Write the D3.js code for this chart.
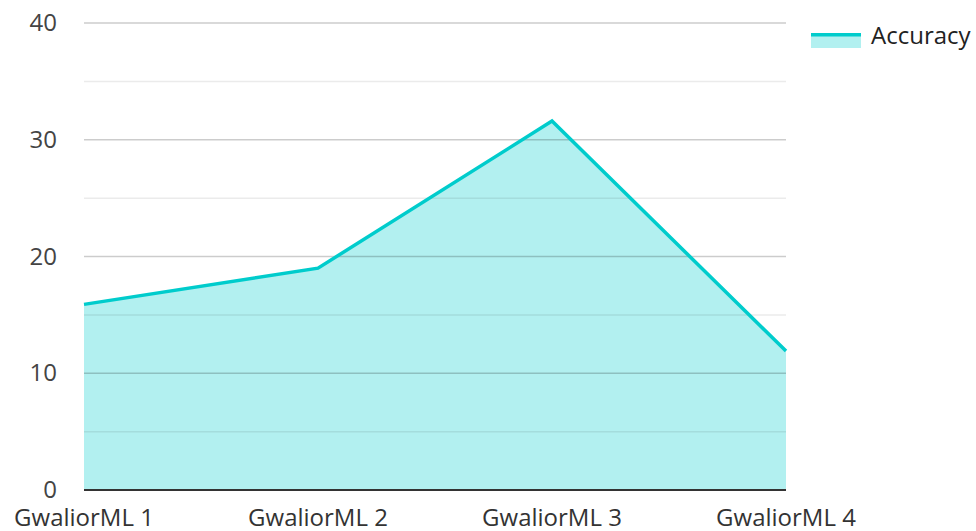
<html>
<head>
    <script src="https://d3js.org/d3.v7.min.js"></script>
    <style>
        body { margin: 0; background: #fff; }
        text { font-family: "Open Sans", sans-serif; }
    </style>
</head>
<body>
    <script>
        var categories = ["GwaliorML 1", "GwaliorML 2", "GwaliorML 3", "GwaliorML 4"];
        var accuracy = [15.9, 19.0, 31.6, 11.9];
        var yTicks = [0, 10, 20, 30, 40];
        var yMinorTicks = [5, 15, 25, 35];
        var seriesName = "Accuracy";

        var width = 976, height = 531;
        var margin = { left: 84, right: 190, top: 23, bottom: 41 };
        var color = "#00cccc";

        var svg = d3.select("body").append("svg")
            .attr("width", width)
            .attr("height", height);

        var x = d3.scalePoint()
            .domain(categories)
            .range([margin.left, width - margin.right]);

        var y = d3.scaleLinear()
            .domain([0, 40])
            .range([height - margin.bottom, margin.top]);

        var data = categories.map(function (c, i) { return { cat: c, v: accuracy[i] }; });

        // area fill
        svg.append("path")
            .datum(data)
            .attr("fill", color)
            .attr("fill-opacity", 0.3)
            .attr("d", d3.area()
                .x(function (d) { return x(d.cat); })
                .y0(y(0))
                .y1(function (d) { return y(d.v); }));

        // gridlines sit on top of the fill
        svg.append("g").selectAll("line")
            .data(yMinorTicks)
            .enter().append("line")
            .attr("x1", margin.left).attr("x2", width - margin.right)
            .attr("y1", y).attr("y2", y)
            .attr("stroke", "rgba(0,0,0,0.08)")
            .attr("stroke-width", 1.5);

        svg.append("g").selectAll("line")
            .data(yTicks.slice(1))
            .enter().append("line")
            .attr("x1", margin.left).attr("x2", width - margin.right)
            .attr("y1", y).attr("y2", y)
            .attr("stroke", "rgba(0,0,0,0.2)")
            .attr("stroke-width", 1.5);

        svg.append("path")
            .datum(data)
            .attr("fill", "none")
            .attr("stroke", color)
            .attr("stroke-width", 3.5)
            .attr("stroke-linejoin", "miter")
            .attr("d", d3.line()
                .x(function (d) { return x(d.cat); })
                .y(function (d) { return y(d.v); }));

        // baseline
        svg.append("line")
            .attr("x1", margin.left).attr("x2", width - margin.right)
            .attr("y1", y(0)).attr("y2", y(0))
            .attr("stroke", "#333")
            .attr("stroke-width", 2);

        // y labels
        svg.append("g").selectAll("text")
            .data(yTicks)
            .enter().append("text")
            .attr("x", 57)
            .attr("y", function (d) { return y(d) + 8; })
            .attr("text-anchor", "end")
            .attr("fill", "#444")
            .style("font-size", "24px")
            .text(String);

        // x labels
        svg.append("g").selectAll("text")
            .data(categories)
            .enter().append("text")
            .attr("x", x)
            .attr("y", y(0) + 36)
            .attr("text-anchor", "middle")
            .attr("fill", "#333")
            .style("font-size", "24px")
            .text(String);

        // legend
        var lg = svg.append("g").attr("transform", "translate(811,33)");
        lg.append("rect")
            .attr("width", 50).attr("height", 15)
            .attr("fill", color).attr("fill-opacity", 0.3);
        lg.append("rect")
            .attr("width", 50).attr("height", 3.5)
            .attr("fill", color);
        lg.append("text")
            .attr("x", 60).attr("y", 11)
            .attr("fill", "#222")
            .style("font-size", "24px")
            .text(seriesName);
    </script>
</body>
</html>
